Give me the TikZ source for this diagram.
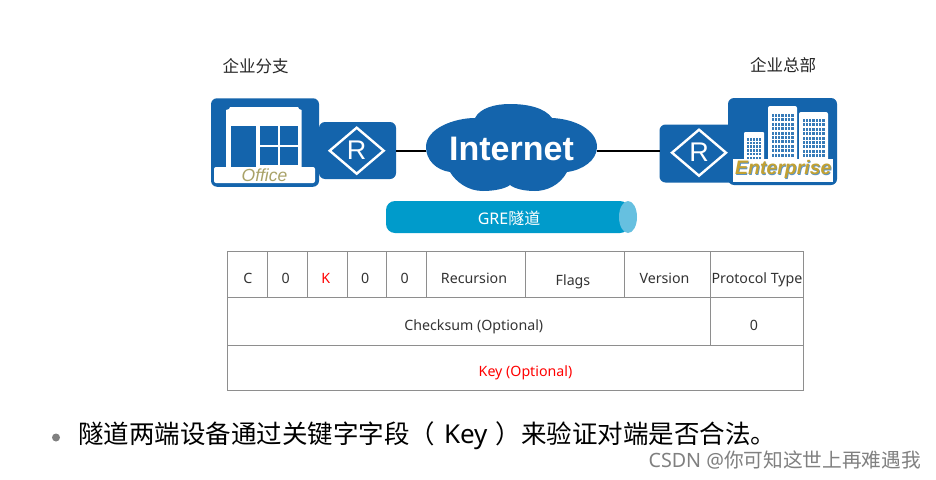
\documentclass[tikz,border=0pt]{standalone}
\usepackage{fontspec}
\setmainfont{Noto Sans CJK SC}
\newfontfamily\lat{Noto Sans}
\newfontfamily\arl{Liberation Sans}
\definecolor{hwblue}{HTML}{1464AC}
\definecolor{tubeblue}{HTML}{009BCB}
\definecolor{tubecap}{HTML}{66C0E0}
\definecolor{gridgray}{HTML}{8E8E8E}
\definecolor{inktext}{HTML}{333333}
\definecolor{gold}{HTML}{A9A268}
\definecolor{goldb}{HTML}{C2A132}
\newcommand\shiftby[2]{\kern#1pt #2}
\tikzset{
  every node/.style={inner sep=0pt,outer sep=0pt},
  panel/.style={fill=hwblue,rounded corners=6pt,minimum width=#1},
  cell/.style={draw=gridgray,line width=1pt,text=inktext,font=\lat\fontsize{14.2}{16}\selectfont,text height=18.5pt,text depth=0pt},
  head/.style={font=\fontsize{16.5}{18}\selectfont,text=black!85},
  link/.style={draw=black,line width=2pt},
  rmark/.style={text=white,font=\arl\fontsize{27}{28}\selectfont},
  rdiamond/.style={draw=white,line width=2.4pt,line join=miter},
}
\begin{document}
\begin{tikzpicture}[x=1pt,y=-1pt]
\useasboundingbox (0,0) rectangle (936,479);
\fill[white] (0,0) rectangle (936,479);
% headings
\node[head] (hl) at (255.5,66.5) {企业分支};
\node[head] (hr) at (783,65.5) {企业总部};
% left router and office
\node[panel=77pt,minimum height=57pt] (rl) at (357.5,150.5) {};
\node[panel=108pt,minimum height=88.5pt] (office) at (265,142.5) {};
\fill[white] (226,110) -- (229,109) -- (230,107) -- (298,107) -- (299,109) -- (301.5,110) -- (301.5,168) -- (226,168) -- cycle;
\fill[white,rounded corners=2pt] (214,167) -- (315,167) -- (315,183) -- (214,183) -- cycle;
\fill[hwblue] (231,126) rectangle (256,167);
\fill[hwblue] (260,126) rectangle (278,145);
\fill[hwblue] (280,126) rectangle (298,145);
\fill[hwblue] (260,147) rectangle (278,165);
\fill[hwblue] (280,147) rectangle (298,165);
\node[text=gold,font=\arl\itshape\fontsize{17.5}{18}\selectfont] (officet) at (264.5,175) {Office};
\node[rmark] (rdl) at (356.7,150.7) {R};
\draw[rdiamond] (356.7,127.7) -- (383.7,150.7) -- (356.7,173.7) -- (329.7,150.7) -- cycle;
% right router and enterprise
\node[panel=77pt,minimum height=58pt] (rr) at (698,153.5) {};
\node[panel=109pt,minimum height=87pt] (ent) at (782.5,141.5) {};
\fill[white,rounded corners=1pt] (744,132) rectangle (764,162);
\fill[white,rounded corners=2pt] (768,106) rectangle (797,162);
\fill[white,rounded corners=2pt] (799,112) rectangle (828,162);
\foreach \c in {0,...,4}\foreach \r in {0,...,5}{
  \fill[hwblue!85] ({747+3*\c},{138+3.7*\r}) rectangle ++(2.2,2.6);
}
\foreach \c in {0,...,6}\foreach \r in {0,...,9}{
  \fill[hwblue!85] ({771.5+3.3*\c},{114+4.4*\r}) rectangle ++(2.3,3);
}
\foreach \c in {0,...,6}\foreach \r in {0,...,8}{
  \fill[hwblue!85] ({802.5+3.3*\c},{119+4.4*\r}) rectangle ++(2.3,3);
}
\fill[white] (733,159) rectangle (833,182);
\node[text=hwblue!70,font=\arl\bfseries\itshape\fontsize{19.5}{20}\selectfont] (entb) at (784,170.5) {Enterprise};
\node[text=goldb,font=\arl\bfseries\itshape\fontsize{19.5}{20}\selectfont] (entt) at (783.3,169.8) {Enterprise};
\node[rmark] (rdr) at (699,152.7) {R};
\draw[rdiamond] (699,129.7) -- (726,152.7) -- (699,175.7) -- (672,152.7) -- cycle;
% cloud
\fill[hwblue] (426,147) .. controls (426,128) and (455,118) .. (475,118)
  .. controls (480,108) and (495,104) .. (510,104)
  .. controls (528,104) and (545,108) .. (552,118)
  .. controls (575,119) and (597,130) .. (597,147)
  .. controls (597,160) and (583,170) .. (567,172)
  .. controls (560,185) and (547,191) .. (535,191)
  .. controls (525,191) and (515,189) .. (510,185)
  .. controls (505,189) and (493,191) .. (483,191)
  .. controls (468,191) and (456,182) .. (450,172)
  .. controls (436,170) and (426,160) .. (426,147) -- cycle;
\node[minimum width=171pt,minimum height=8pt,text=white,font=\arl\bfseries\fontsize{34}{36}\selectfont] (inet) at (511.5,149) {Internet};
\coordinate (il) at (426,151);
\coordinate (ir) at (597,151);
\coordinate (rle) at (396,151);
\coordinate (rrw) at (660,151);
\draw[link] (rle) -- (il);
\draw[link] (ir) -- (rrw);
% tunnel
\fill[tubeblue,rounded corners=9pt] (386,201) rectangle (629,233);
\fill[tubecap] (628,217) ellipse [x radius=9,y radius=16];
\node[text=white,font=\fontsize{16}{18}\selectfont] (gre) at (509,218) {{\lat GRE}隧道};
% table
\node[cell,minimum width=40pt,minimum height=46pt] (c1) at (247.8,274.7) {C};
\node[cell,minimum width=40pt,minimum height=46pt] (c2) at (287.8,274.7) {\shiftby{-4}{0}};
\node[cell,minimum width=40pt,minimum height=46pt,text=red] (c3) at (327.8,274.7) {\shiftby{-4}{K}};
\node[cell,minimum width=39pt,minimum height=46pt] (c4) at (367.3,274.7) {\shiftby{-4}{0}};
\node[cell,minimum width=40pt,minimum height=46pt] (c5) at (406.8,274.7) {\shiftby{-4}{0}};
\node[cell,minimum width=98.5pt,minimum height=46pt] (c6) at (476,274.7) {\shiftby{-4}{Recursion}};
\node[cell,minimum width=99pt,minimum height=46pt] (c7) at (575,274.7) {\shiftby{-4}{\raisebox{-1.5pt}{Flags}}};
\node[cell,minimum width=86pt,minimum height=46pt] (c8) at (667.5,274.7) {\shiftby{-6}{Version}};
\node[cell,minimum width=93pt,minimum height=46pt] (c9) at (757,274.7) {Protocol Type};
\node[cell,minimum width=482.7pt,minimum height=47.3pt] (d1) at (469.3,321.4) {\shiftby{9}{Checksum (Optional)}};
\node[cell,minimum width=93pt,minimum height=47.3pt] (d2) at (757,321.4) {\shiftby{-6}{0}};
\node[cell,minimum width=575.5pt,minimum height=45pt,text=red] (e1) at (515.5,367.5) {\shiftby{20}{Key (Optional)}};
% bullet
\fill[gray] (56,437.5) circle (4);
\node[anchor=west,text=black,font=\fontsize{25.5}{28}\selectfont] (txt) at (78,436) {隧道两端设备通过关键字字段（\kern9pt{\lat\fontsize{26}{28}\selectfont Key}\kern8pt ）来验证对端是否合法。};
% watermark
\node[anchor=east,text=black!50,font=\fontsize{19.7}{22}\selectfont] (wm) at (921,460.5) {{\lat CSDN @}你可知这世上再难遇我};
\end{tikzpicture}
\end{document}
